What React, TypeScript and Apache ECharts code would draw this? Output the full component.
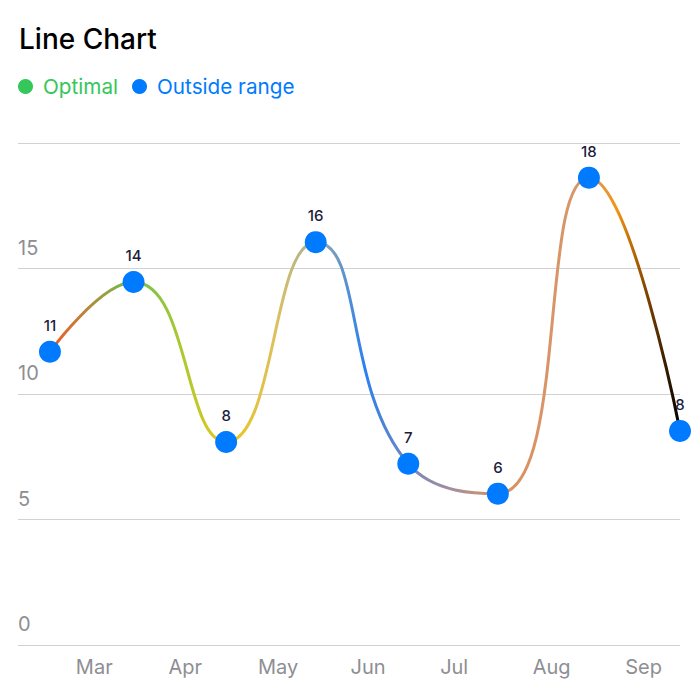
import React, { useEffect, useRef } from "react";
import * as echarts from "echarts";

const dayOfYear = [52, 80, 111, 141, 172, 202, 232.5, 263];
const values = [11.68, 14.46, 8.09, 16.05, 7.22, 6.03, 18.62, 8.53];
const monthStarts = [60, 91, 121, 152, 182, 213, 244];
const monthLabels = ["Mar", "Apr", "May", "Jun", "Jul", "Aug", "Sep"];
const legendNames = ["Optimal", "Outside range"];
const legendColors = ["#34c759", "#007aff"];
const gradientStops = [
  [0, "#f4582a"],
  [0.066, "#ad8f3c"],
  [0.13, "#6cc04a"],
  [0.2, "#a4c834"],
  [0.28, "#e8c818"],
  [0.36, "#dcc060"],
  [0.42, "#a2b09c"],
  [0.5, "#2a80f0"],
  [0.567, "#7088c0"],
  [0.64, "#a88e9c"],
  [0.71, "#d89062"],
  [0.855, "#d8986a"],
  [0.9, "#f49410"],
  [0.95, "#7a4000"],
  [1, "#000000"],
];

const FONT = "Inter, 'Noto Sans', sans-serif";

export default function App() {
  const ref = useRef<HTMLDivElement>(null);
  useEffect(() => {
    if (!ref.current) return;
    const chart = echarts.init(ref.current, null, { renderer: "svg" });
    const points = dayOfYear.map((d, i) => [d, values[i]]);
    chart.setOption({
      animation: false,
      backgroundColor: "#ffffff",
      textStyle: { fontFamily: FONT },
      title: {
        text: "Line Chart",
        left: 14,
        top: 20,
        textStyle: { fontSize: 28, fontWeight: 500, color: "#000000", fontFamily: FONT },
      },
      legend: {
        left: 18,
        top: 76,
        padding: 0,
        icon: "circle",
        itemWidth: 15,
        itemHeight: 15,
        itemGap: 14,
        selectedMode: false,
        textStyle: { fontSize: 20.7, fontFamily: FONT, padding: [0, 0, 0, 5] },
        data: legendNames.map((n, i) => ({
          name: n,
          icon: "circle",
          itemStyle: { color: legendColors[i] },
          textStyle: { color: legendColors[i], fontSize: 20.7 },
        })),
      },
      grid: { left: 18, right: 20, top: 143, bottom: 51 },
      xAxis: {
        type: "value",
        min: 41.3,
        max: 263,
        axisLine: { show: false },
        axisTick: { show: false },
        splitLine: { show: false },
        axisLabel: {
          customValues: monthStarts,
          formatter: (v: number) => {
            const idx = monthStarts.indexOf(v);
            return idx >= 0 ? monthLabels[idx] : "";
          },
          align: "left",
          margin: 12,
          color: "#8e8e93",
          fontSize: 20,
          fontFamily: FONT,
          padding: [0, 0, 0, 2],
        },
      },
      yAxis: {
        type: "value",
        min: 0,
        max: 20,
        interval: 5,
        axisLine: { show: false },
        axisTick: { show: false },
        splitLine: { show: true, lineStyle: { color: "#d1d1d6", width: 1 } },
        axisLabel: {
          inside: true,
          margin: 0,
          align: "left",
          verticalAlign: "bottom",
          lineHeight: 42,
          color: "#8e8e93",
          fontSize: 20,
          fontFamily: FONT,
          formatter: (v: number) => (v === 20 ? "" : String(v)),
        },
      },
      series: [
        {
          name: legendNames[0],
          type: "line",
          data: points,
          smooth: 0.5,
          showSymbol: false,
          symbol: "none",
          lineStyle: {
            width: 3,
            color: new echarts.graphic.LinearGradient(
              0,
              0,
              1,
              0,
              gradientStops.map(([o, c]) => ({ offset: o as number, color: c as string }))
            ),
          },
          itemStyle: { color: legendColors[0] },
          z: 2,
          clip: false,
        },
        {
          name: legendNames[1],
          type: "scatter",
          data: points,
          symbolSize: 22,
          itemStyle: { color: legendColors[1], opacity: 1 },
          label: {
            show: true,
            position: "top",
            distance: 8,
            formatter: (p: any) => String(Math.floor(p.value[1])),
            fontSize: 15,
            fontWeight: 500,
            color: "#1c1c3a",
            fontFamily: FONT,
          },
          z: 3,
          clip: false,
        },
      ],
    });
    return () => chart.dispose();
  }, []);
  return <div ref={ref} style={{ width: 700, height: 696, position: "absolute", left: 0, top: 0 }} />;
}
